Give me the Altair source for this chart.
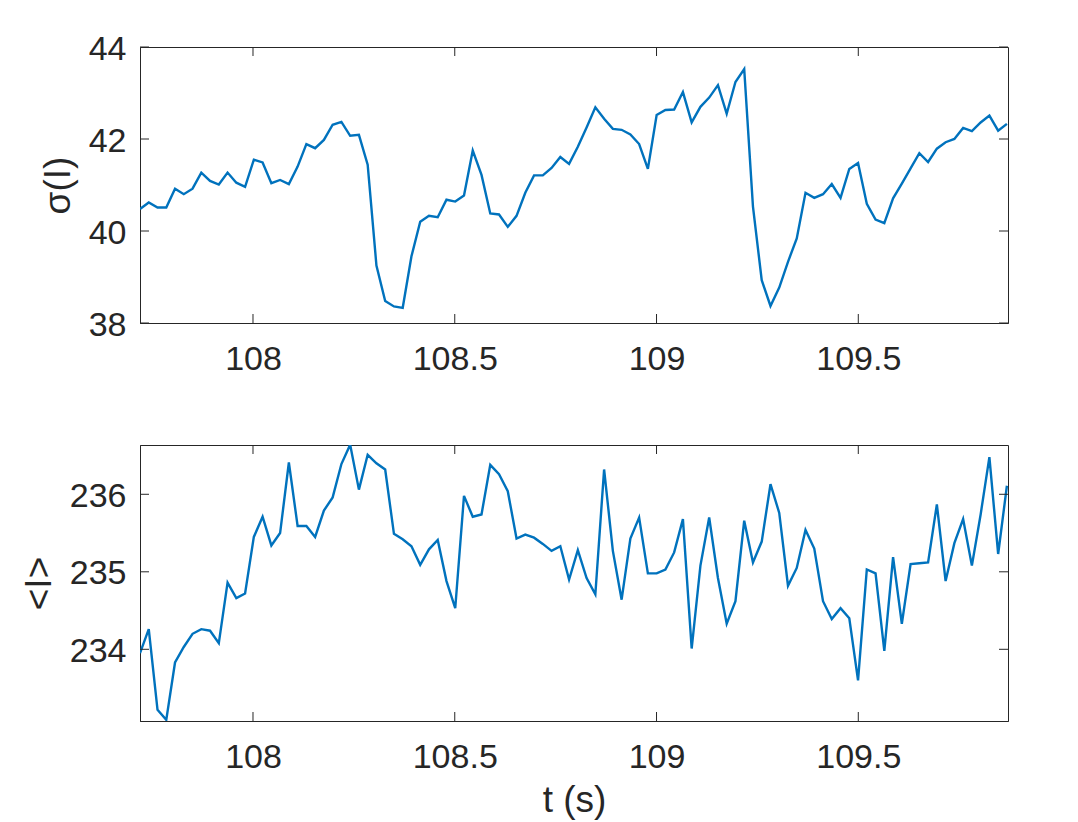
import altair as alt
import pandas as pd
import numpy as np

# sampling grid (s)
T0 = 107.72
DT = 0.0217

sigma = [40.48, 40.62, 40.51, 40.51, 40.92, 40.80, 40.92, 41.27, 41.09, 41.01,
         41.27, 41.05, 40.96, 41.55, 41.49, 41.04, 41.11, 41.02, 41.40, 41.89,
         41.80, 41.98, 42.31, 42.37, 42.07, 42.09, 41.44, 39.25, 38.48, 38.36,
         38.33, 39.45, 40.20, 40.33, 40.30, 40.68, 40.64, 40.77, 41.75, 41.22,
         40.38, 40.36, 40.09, 40.33, 40.83, 41.21, 41.21, 41.37, 41.61, 41.46,
         41.83, 42.25, 42.69, 42.44, 42.22, 42.20, 42.10, 41.89, 41.35, 42.52,
         42.63, 42.64, 43.02, 42.36, 42.70, 42.90, 43.17, 42.55, 43.24, 43.52,
         40.53, 38.93, 38.37, 38.77, 39.33, 39.84, 40.83, 40.72, 40.80, 41.02,
         40.72, 41.35, 41.48, 40.59, 40.25, 40.17, 40.71, 41.03, 41.36, 41.69,
         41.50, 41.79, 41.93, 42.00, 42.24, 42.17, 42.36, 42.51, 42.18, 42.33]

mean_I = [233.95, 234.26, 233.22, 233.09, 233.83, 234.03, 234.20, 234.26, 234.24, 234.08,
          234.86, 234.66, 234.72, 235.45, 235.71, 235.34, 235.50, 236.41, 235.59, 235.59,
          235.45, 235.79, 235.96, 236.39, 236.64, 236.06, 236.51, 236.40, 236.32, 235.49,
          235.42, 235.33, 235.09, 235.29, 235.41, 234.88, 234.53, 235.98, 235.71, 235.74,
          236.38, 236.26, 236.04, 235.43, 235.48, 235.44, 235.36, 235.27, 235.33, 234.90,
          235.28, 234.92, 234.71, 236.32, 235.27, 234.64, 235.43, 235.70, 234.98, 234.98,
          235.03, 235.25, 235.68, 234.01, 235.08, 235.70, 234.92, 234.33, 234.62, 235.66,
          235.12, 235.39, 236.13, 235.76, 234.82, 235.05, 235.54, 235.30, 234.62, 234.39,
          234.53, 234.40, 233.60, 235.03, 234.98, 233.98, 235.19, 234.33, 235.10, 235.11,
          235.12, 235.87, 234.88, 235.37, 235.68, 235.08, 235.74, 236.48, 235.23, 236.11]

x_ticks = [108, 108.5, 109, 109.5]
x_domain = [107.72, 109.871]
sigma_ticks = [38, 40, 42, 44]
sigma_domain = [38, 44]
mean_ticks = [234, 235, 236]
mean_domain = [233.075, 236.636]

W, H = 868, 276
TICK = 9
FONT = "Liberation Sans"
INK = "#262626"
BLUE = "#0072BD"

t = np.round(T0 + DT * np.arange(len(sigma)), 5)
df_top = pd.DataFrame({"t": t, "v": sigma})
df_bot = pd.DataFrame({"t": t, "v": mean_I})
xt = pd.DataFrame({"t": x_ticks})

xscale = alt.Scale(domain=x_domain, nice=False, zero=False)


def panel(df, ydomain, yticks, ytitle, xtitle):
    yscale = alt.Scale(domain=ydomain, nice=False, zero=False)
    xaxis = alt.Axis(values=x_ticks, format="~g", title=xtitle)
    yaxis = alt.Axis(values=yticks, format="d", title=ytitle)

    def X():
        return alt.X("t:Q", scale=xscale, axis=xaxis)

    def Y():
        return alt.Y("v:Q", scale=yscale, axis=yaxis)

    yt = pd.DataFrame({"v": yticks})
    line = alt.Chart(df).mark_line(color=BLUE, strokeWidth=2.4, clip=True).encode(x=X(), y=Y())
    xb = alt.Chart(xt).mark_rule(color=INK, strokeWidth=1).encode(
        x=X(), y=alt.value(H - TICK), y2=alt.value(H))
    xtp = alt.Chart(xt).mark_rule(color=INK, strokeWidth=1).encode(
        x=X(), y=alt.value(0), y2=alt.value(TICK))
    yl = alt.Chart(yt).mark_rule(color=INK, strokeWidth=1).encode(
        y=Y(), x=alt.value(0), x2=alt.value(TICK))
    yr = alt.Chart(yt).mark_rule(color=INK, strokeWidth=1).encode(
        y=Y(), x=alt.value(W - TICK), x2=alt.value(W))
    return alt.layer(line, xb, xtp, yl, yr).properties(width=W, height=H)


top = panel(df_top, sigma_domain, sigma_ticks, "σ(I)", None)
bot = panel(df_bot, mean_domain, mean_ticks, "<I>", "t (s)")

chart = alt.vconcat(top, bot, spacing=122, bounds="flush").properties(
    padding={"left": 11, "top": 23, "right": 5, "bottom": 5},
).configure_axis(
    domainColor=INK, domainWidth=1, ticks=False, grid=False,
    labelFont=FONT, labelFontSize=34, labelColor=INK, labelOverlap=False,
    titleFont=FONT, titleFontSize=37, titleColor=INK, titleFontWeight="normal",
).configure_axisX(
    labelPadding=19, titlePadding=8,
).configure_axisY(
    labelPadding=14, titlePadding=11, labelOffset=2,
).configure_view(
    stroke=INK, strokeWidth=1,
)

chart.save("out.html", embed_options={"renderer": "svg", "actions": False})
